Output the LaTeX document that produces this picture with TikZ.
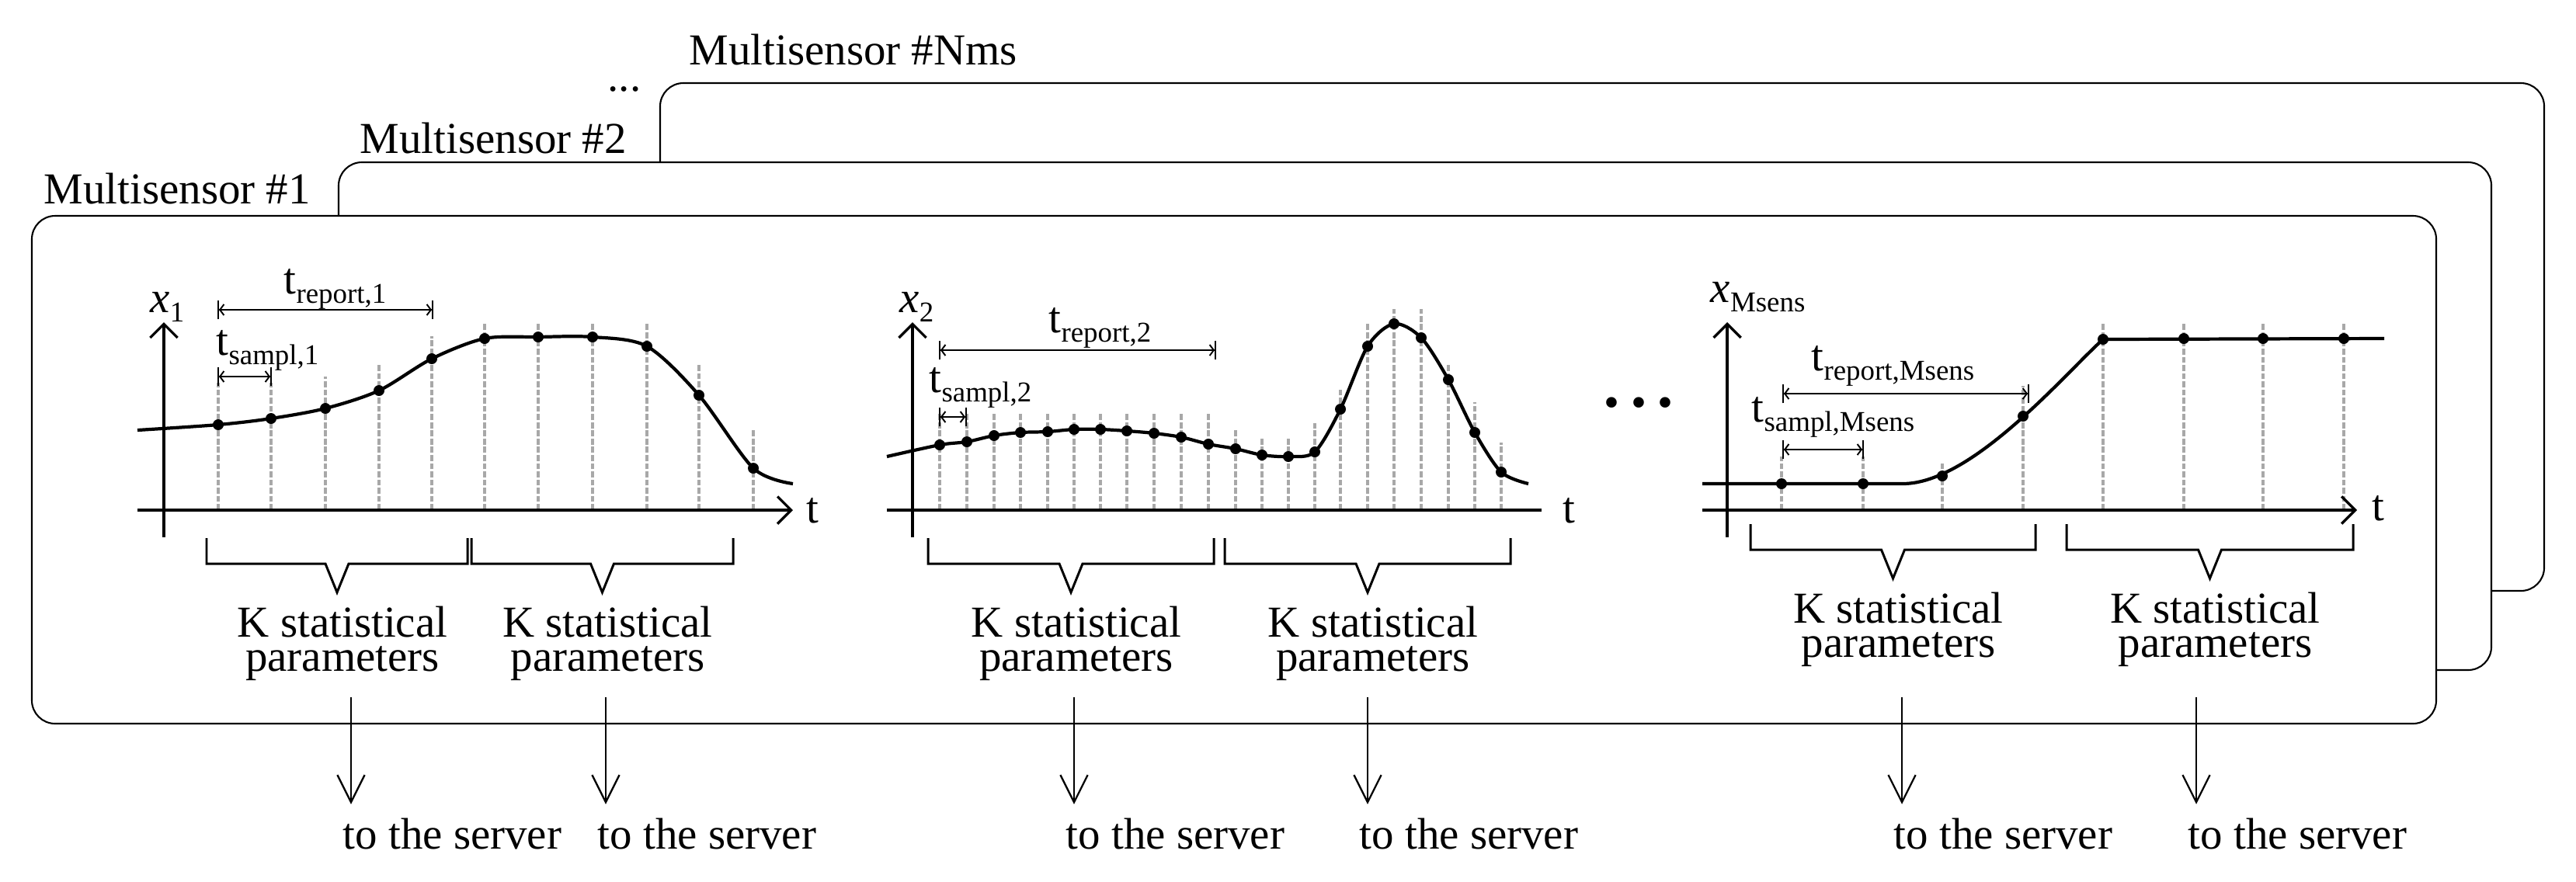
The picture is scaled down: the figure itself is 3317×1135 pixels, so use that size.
\documentclass[tikz,border=0pt]{standalone}
\usepackage{fontspec}
\setmainfont{Liberation Serif}
\usetikzlibrary{arrows.meta}

\definecolor{samplgray}{gray}{0.66}
\newcommand{\sub}[1]{\raisebox{-3.5pt}{\fontsize{10.5}{10.5}\selectfont #1}}

\tikzset{
	sensorbox/.style={draw, fill=white, line width=0.6pt, rounded corners=3mm},
	taxis/.style={line width=0.95pt},
	axisarrow/.style={taxis, -{Straight Barb[length=5pt,width=10pt]}},
	samplline/.style={samplgray, line width=0.9pt, dash pattern=on 2.2pt off 0.8pt},
	signalcurve/.style={line width=1.2pt},
	spanline/.style={line width=0.55pt, {Bar[width=7pt]Straight Barb[length=1.5pt,width=4pt]}-{Straight Barb[length=1.5pt,width=4pt]Bar[width=7pt]}},
	statbrace/.style={line width=0.85pt},
	sendarrow/.style={line width=0.65pt, -{Straight Barb[length=10pt,width=10pt]}, shorten >=1.7mm},
	lbl/.style={inner sep=0pt, anchor=base west, font=\fontsize{16.2}{19}\selectfont},
	stat/.style={inner sep=0pt, anchor=north, align=center, font=\fontsize{16.2}{12.5}\selectfont},
}

\begin{document}
\begin{tikzpicture}[x=0.1mm, y=-0.1mm]
		\useasboundingbox (0,0) rectangle (3317,1135);
		% stacked multisensor frames
		\draw[sensorbox] (850,107) rectangle (3276,761);
		\draw[sensorbox] (436,209) rectangle (3208,863);
		\draw[sensorbox] (41,278) rectangle (3137,932);
		\node[lbl] (ms1) at (56,262) {Multisensor \#1};
		\node[lbl] (ms2) at (463,197) {Multisensor \#2};
		\node[lbl] (msdots) at (782,117) {...};
		\node[lbl] (msN) at (887,83) {Multisensor \#Nms};

		% sensor 1
		\foreach \sx/\sy/\st in {281/547/493, 349/539/493, 419/526/485, 488/503/468, 556/462/433, 624/436/417,
				693/434/417, 763/434/417, 833/446/417, 900/509/468, 970/603/553}
			\draw[samplline] (\sx,657) -- (\sx,\st);
		\draw[signalcurve] plot[smooth] coordinates {(177,554) (281,547) (349,539) (419,526) (488,503) (556,462)
				(624,436) (693,434) (763,434) (833,446) (900,509) (970,603) (1021,623)};
		\foreach \sx/\sy/\st in {281/547/493, 349/539/493, 419/526/485, 488/503/468, 556/462/433, 624/436/417,
				693/434/417, 763/434/417, 833/446/417, 900/509/468, 970/603/553}
			\fill (\sx,\sy) circle[radius=0.7mm];
		\draw[axisarrow] (211,692) -- (211,415);
		\draw[axisarrow] (177,657) -- (1021,657);
		\node[lbl] (x1) at (193,402) {\textit{x}\sub{1}};
		\node[lbl] (tax1) at (1038,673) {t};
		\draw[spanline] (280,399) -- (558,399);
		\draw[spanline] (280,485) -- (350,485);
		\node[lbl] (trep1) at (365,378) {t\sub{report,1}};
		\node[lbl] (tsam1) at (278,457) {t\sub{sampl,1}};

		% sensor 2
		\foreach \sx/\sy/\st in {1210/573/533, 1245/569/533, 1280/561/533, 1314/557/533, 1349/556/533, 1383/553/533,
				1417/553/533, 1451/555/533, 1486/558/533, 1521/563/533, 1556/572/533, 1591/578/553, 1625/586/563,
				1659/588/563, 1693/582/545, 1726/527/502, 1761/446/416, 1795/417/398, 1830/435/398, 1865/489/468,
				1899/557/518, 1933/608/570}
			\draw[samplline] (\sx,657) -- (\sx,\st);
		\draw[signalcurve] plot[smooth] coordinates {(1142,588) (1210,573) (1245,569) (1280,561) (1314,557)
				(1349,556) (1383,553) (1417,553) (1451,555) (1486,558) (1521,563) (1556,572) (1591,578) (1625,586)
				(1659,588) (1693,582) (1726,527) (1761,446) (1795,417) (1830,435) (1865,489) (1899,557) (1933,608)
				(1968,623)};
		\foreach \sx/\sy/\st in {1210/573/533, 1245/569/533, 1280/561/533, 1314/557/533, 1349/556/533, 1383/553/533,
				1417/553/533, 1451/555/533, 1486/558/533, 1521/563/533, 1556/572/533, 1591/578/553, 1625/586/563,
				1659/588/563, 1693/582/545, 1726/527/502, 1761/446/416, 1795/417/398, 1830/435/398, 1865/489/468,
				1899/557/518, 1933/608/570}
			\fill (\sx,\sy) circle[radius=0.7mm];
		\draw[axisarrow] (1175,692) -- (1175,415);
		\draw[taxis] (1142,657) -- (1985,657);
		\node[lbl] (x2) at (1158,402) {\textit{x}\sub{2}};
		\node[lbl] (tax2) at (2012,673) {t};
		\draw[spanline] (1209,451) -- (1566,451);
		\draw[spanline] (1209,537) -- (1245,537);
		\node[lbl] (trep2) at (1350,428) {t\sub{report,2}};
		\node[lbl] (tsam2) at (1196,505) {t\sub{sampl,2}};

		\node[lbl, anchor=base] (sensdots) at (2110,537) {\textbullet\ \textbullet\ \textbullet};

		% sensor Msens
		\foreach \sx/\sy/\st in {2294/623/588, 2399/623/588, 2501/613/597, 2605/536/497, 2708/437/416,
				2812/436/416, 2914/436/416, 3018/436/416}
			\draw[samplline] (\sx,657) -- (\sx,\st);
		\draw[signalcurve] (2192,623) -- (2450,623) .. controls (2540,623) and (2660,480) .. (2708,437) -- (3070,436);
		\foreach \sx/\sy/\st in {2294/623/588, 2399/623/588, 2501/613/597, 2605/536/497, 2708/437/416,
				2812/436/416, 2914/436/416, 3018/436/416}
			\fill (\sx,\sy) circle[radius=0.7mm];
		\draw[axisarrow] (2224,692) -- (2224,415);
		\draw[axisarrow] (2192,657) -- (3035,657);
		\node[lbl] (x3) at (2202,389) {\textit{x}\sub{Msens}};
		\node[lbl] (tax3) at (3054,670) {t};
		\draw[spanline] (2295,507) -- (2613,507);
		\draw[spanline] (2295,579) -- (2400,579);
		\node[lbl] (trep3) at (2332,477) {t\sub{report,Msens}};
		\node[lbl] (tsam3) at (2255,543) {t\sub{sampl,Msens}};

		% groups of samples and what is sent
		\foreach \a/\b/\t/\n in {266/602/693/11, 607/944/693/12, 1195/1563/693/21, 1577/1945/693/22,
				2254/2621/675/31, 2661/3030/675/32}
		{
			\pgfmathsetmacro\m{(\a+\b)/2}
			\draw[statbrace] (\a,\t) -- (\a,\t+33) -- (\m-15,\t+33) -- (\m,\t+70) -- (\m+15,\t+33) -- (\b,\t+33) -- (\b,\t);
			\node[stat] (k\n) at (\m+7,\t+87) {K statistical\\parameters};
		}
		\foreach \x/\n in {452/11, 780/12, 1383/21, 1761/22, 2449/31, 2828/32}
		{
			\coordinate (s\n) at (\x,898);
			\node[lbl] (srv\n) at (\x-11,1093) {to the server};
			\draw[sendarrow] (s\n) -- (s\n |- srv\n.north);
		}
	\end{tikzpicture}
\end{document}
